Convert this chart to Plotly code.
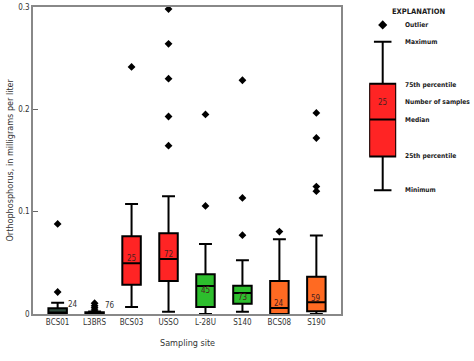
import plotly.graph_objects as go

sites = ["BCS01", "L3BRS", "BCS03", "USSO", "L-28U", "S140", "BCS08", "S190"]
q1 = [0.0, 0.0, 0.0287, 0.0323, 0.0068, 0.0101, 0.0, 0.0026]
median = [0.0015, 0.0008, 0.0495, 0.0538, 0.0274, 0.0205, 0.0059, 0.0114]
q3 = [0.0056, 0.0018, 0.076, 0.079, 0.0388, 0.0277, 0.0323, 0.0365]
lower = [0.0, 0.0, 0.0068, 0.0023, 0.0, 0.0023, 0.0, 0.0]
upper = [0.011, 0.0025, 0.1075, 0.115, 0.0684, 0.0525, 0.073, 0.0766]
n_samples = [24, 76, 25, 72, 45, 73, 24, 59]
colors = ["#2F4A3C", "#1E2A24", "#FF2424", "#FF2424", "#2DBE2D", "#2DBE2D", "#FF6A22", "#FF6A22"]
label_y = [0.009, 0.008, 0.054, 0.058, 0.0225, 0.016, 0.0105, 0.015]
label_side = ["right", "right", "center", "center", "center", "center", "center", "center"]

outlier_site = ["BCS01", "BCS01", "L3BRS", "L3BRS", "L3BRS", "L3BRS", "BCS03",
                "USSO", "USSO", "USSO", "USSO", "USSO", "L-28U", "L-28U",
                "S140", "S140", "S140", "BCS08", "S190", "S190", "S190", "S190"]
outlier_val = [0.0215, 0.088, 0.004, 0.006, 0.008, 0.0105, 0.2414,
               0.298, 0.264, 0.230, 0.193, 0.1645, 0.1056, 0.195,
               0.077, 0.1134, 0.2284, 0.0805, 0.1200, 0.1245, 0.172, 0.1965]

# Explanation (legend) example box
exp_stats = dict(lower=0.121, q1=0.154, median=0.19, q3=0.225, upper=0.266, outlier=0.2825, n=25)
exp_labels = ["Outlier", "Maximum", "75th percentile", "Number of samples", "Median", "25th percentile", "Minimum"]
exp_label_y = [0.2825, 0.266, 0.224, 0.207, 0.19, 0.154, 0.121]

FONT = "DejaVu Sans Condensed, Liberation Sans Narrow, Arial Narrow, sans-serif"

W, H = 474, 361
L, R, T, B = 33, 2, 7, 47
pw = W - L - R
def px2paper(x):
    return (x - L) / pw

fig = go.Figure()
for i, s in enumerate(sites):
    fig.add_trace(go.Box(
        x=[s], q1=[q1[i]], median=[median[i]], q3=[q3[i]],
        lowerfence=[lower[i]], upperfence=[upper[i]],
        fillcolor=colors[i], line=dict(color="black", width=2),
        width=0.5, whiskerwidth=0.7, boxpoints=False, showlegend=False,
        hoverinfo="skip", xaxis="x", yaxis="y"))

fig.add_trace(go.Scatter(
    x=outlier_site, y=outlier_val, mode="markers",
    marker=dict(symbol="diamond", size=6, color="black"),
    showlegend=False, xaxis="x", yaxis="y"))

for i, s in enumerate(sites):
    if label_side[i] == "right":
        fig.add_annotation(x=s, y=label_y[i], xref="x", yref="y", text=str(n_samples[i]),
                           xanchor="left", xshift=8, showarrow=False,
                           font=dict(family=FONT, size=8, color="#333333"))
    else:
        fig.add_annotation(x=s, y=label_y[i], xref="x", yref="y", text=str(n_samples[i]),
                           xanchor="center", showarrow=False,
                           font=dict(family=FONT, size=8, color="#4a2020"))

# explanation box
fig.add_trace(go.Box(
    x=[0], q1=[exp_stats["q1"]], median=[exp_stats["median"]], q3=[exp_stats["q3"]],
    lowerfence=[exp_stats["lower"]], upperfence=[exp_stats["upper"]],
    fillcolor="#FF2424", line=dict(color="black", width=2), width=1, whiskerwidth=0.65,
    boxpoints=False, showlegend=False, hoverinfo="skip", xaxis="x2", yaxis="y"))
fig.add_trace(go.Scatter(
    x=[0], y=[exp_stats["outlier"]], mode="markers",
    marker=dict(symbol="diamond", size=7, color="black"),
    showlegend=False, xaxis="x2", yaxis="y"))
fig.add_annotation(x=0, y=0.207, xref="x2", yref="y", text=str(exp_stats["n"]), showarrow=False,
                   font=dict(family=FONT, size=8, color="#4a2020"))
for lab, ly in zip(exp_labels, exp_label_y):
    fig.add_annotation(x=px2paper(403), y=ly, xref="paper", yref="y", text="<b>" + lab + "</b>",
                       xanchor="left", showarrow=False,
                       font=dict(family=FONT, size=6.6, color="#1a1a1a"))
fig.add_annotation(x=px2paper(418), y=(314 - 11) / 307, xref="paper", yref="paper",
                   text="<b>EXPLANATION</b>", xanchor="center", yanchor="middle", showarrow=False,
                   font=dict(family=FONT, size=7.5, color="#1a1a1a"))

fig.add_annotation(x=px2paper(9), y=0.5, xref="paper", yref="paper",
                   text="Orthophosphorus, in milligrams per liter", textangle=-90,
                   showarrow=False, xanchor="center", yanchor="middle",
                   font=dict(family=FONT, size=9, color="#333333"))
fig.add_annotation(x=px2paper(187), y=(314 - 343) / 307, xref="paper", yref="paper",
                   text="Sampling site", showarrow=False, xanchor="center", yanchor="middle",
                   font=dict(family=FONT, size=9, color="#333333"))

bx = px2paper(382.7)
hw = 13.5 / pw
fig.update_layout(
    width=W, height=H, margin=dict(l=L, r=R, t=T, b=B),
    paper_bgcolor="white", plot_bgcolor="white",
    xaxis=dict(domain=[0, 308 / pw], type="category", showgrid=False, zeroline=False,
               showline=True, linecolor="#888888", linewidth=1.5, mirror=True, automargin=False,
               ticks="", tickfont=dict(family=FONT, size=8, color="#333333")),
    xaxis2=dict(domain=[bx - hw, bx + hw], range=[-0.5, 0.5], anchor="y", visible=False,
                showgrid=False, zeroline=False, automargin=False),
    yaxis=dict(range=[0, 0.3], tickvals=[0, 0.1, 0.2, 0.3], ticktext=["0", "0.1", "0.2", "0.3"],
               showgrid=False, zeroline=False, showline=True, linecolor="#888888", linewidth=1.5,
               mirror=True, ticks="inside", ticklen=5, tickcolor="#666666", automargin=False,
               tickfont=dict(family=FONT, size=8, color="#333333")),
)

fig.write_html("out.html", config={"displayModeBar": False},
               post_script="document.body.style.margin='0';")
